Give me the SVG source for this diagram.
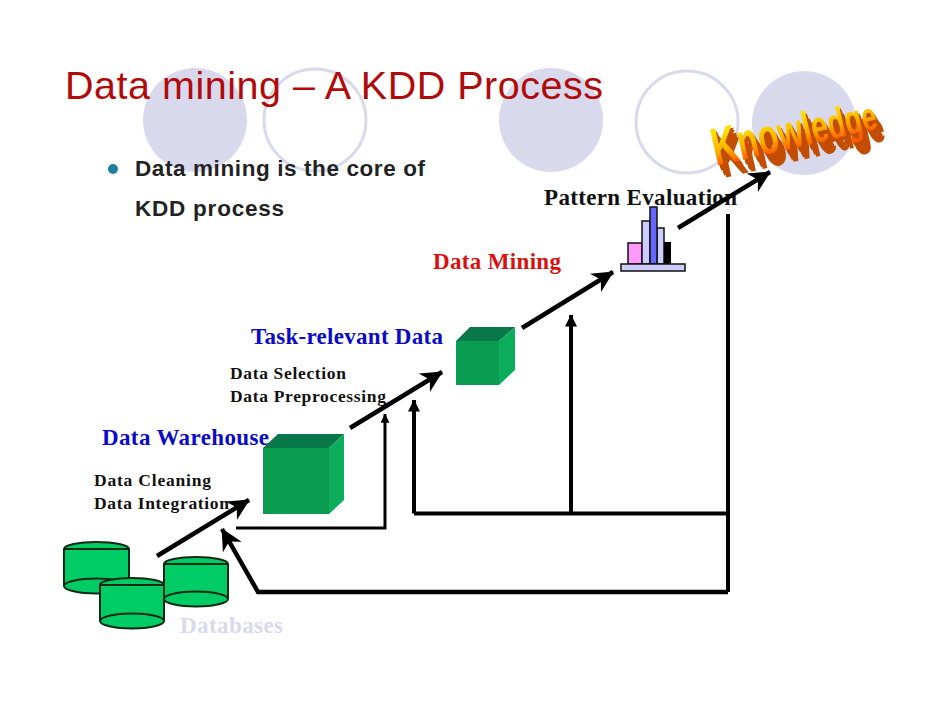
<svg xmlns="http://www.w3.org/2000/svg" width="942" height="728" viewBox="0 0 942 728">
<style>
.c{fill:#d9d9ee}
.o{fill:none;stroke:#d9d9ee;stroke-width:3}
.s{font-family:"Liberation Serif","Times New Roman",serif;font-weight:bold}
.l{font-size:23px}
.m{font-size:17.500px;fill:#111}
.b{font-family:"Liberation Sans",Arial,sans-serif;font-weight:bold;font-size:22.500px;fill:#222}
.a{fill:none;stroke:#000;stroke-width:4.5;marker-end:url(#h)}
.f{fill:none;stroke:#000;stroke-width:4}
.u{marker-end:url(#t)}
.cyl{fill:#00cc66;stroke:#0a2a14;stroke-width:2}
.bar{stroke:#111;stroke-width:1.5}
</style>
<defs>
<marker id="h" viewBox="0 0 10 10" refX="9.6" refY="5" markerWidth="4.8" markerHeight="4.8" orient="auto" markerUnits="strokeWidth"><path d="M0 0L10 5L0 10L3 5Z" fill="#000"/></marker>
<marker id="t" viewBox="0 0 10 10" refX="9.6" refY="5" markerWidth="3" markerHeight="3" orient="auto" markerUnits="strokeWidth"><path d="M0 0L10 5L0 10Z" fill="#000"/></marker>
<linearGradient id="kg" gradientUnits="userSpaceOnUse" x1="0" y1="-30" x2="0" y2="1"><stop offset="0" stop-color="#ffe000"/><stop offset=".55" stop-color="#ffb000"/><stop offset="1" stop-color="#ff5a00"/></linearGradient>
<filter id="ex" filterUnits="userSpaceOnUse" x="690" y="90" width="210" height="110">
<feOffset in="SourceAlpha" dx="1.500" dy="2.500" result="a1"/><feOffset in="SourceAlpha" dx="3" dy="5" result="a2"/><feOffset in="SourceAlpha" dx="4.500" dy="7.500" result="a3"/><feOffset in="SourceAlpha" dx="6" dy="10" result="a4"/><feOffset in="SourceAlpha" dx="7.500" dy="12" result="a5"/>
<feMerge result="m"><feMergeNode in="a1"/><feMergeNode in="a2"/><feMergeNode in="a3"/><feMergeNode in="a4"/><feMergeNode in="a5"/></feMerge>
<feFlood flood-color="#c24e00"/><feComposite in2="m" operator="in" result="sh"/>
<feMerge><feMergeNode in="sh"/><feMergeNode in="SourceGraphic"/></feMerge>
</filter>
</defs>
<rect width="942" height="728" fill="#fff"/>
<g id="background-circles">
<circle class="c" cx="195" cy="120" r="52"/>
<circle class="o" cx="315" cy="120" r="51"/>
<circle class="c" cx="551" cy="120" r="52"/>
<circle class="o" cx="687" cy="122" r="51"/>
<circle class="c" cx="804" cy="123" r="52"/>
</g>
<g id="title"><text x="65" y="99" font-family="'Liberation Sans',Arial,sans-serif" font-size="39.500" fill="#b00a0a" textLength="538">Data mining – A KDD Process</text></g>
<g id="bullet">
<circle cx="113" cy="169" r="5" fill="#1f7f9f"/>
<text class="b" x="135" y="176" textLength="290">Data mining is the core of</text>
<text class="b" x="135" y="216" textLength="149">KDD process</text>
</g>
<g id="labels">
<text class="s l" x="544" y="205" fill="#111" textLength="193">Pattern Evaluation</text>
<text class="s l" x="433" y="269" fill="#d81010" textLength="128">Data Mining</text>
<text class="s l" x="251" y="344" fill="#0a0ac8" textLength="192">Task-relevant Data</text>
<text class="s m" x="230" y="379" textLength="116">Data Selection</text>
<text class="s m" x="230" y="402" textLength="156">Data Preprocessing</text>
<text class="s l" x="102" y="445" fill="#0a0ac8" textLength="167">Data Warehouse</text>
<text class="s m" x="94" y="486" textLength="117">Data Cleaning</text>
<text class="s m" x="94" y="509" textLength="135">Data Integration</text>
<text class="s" x="180" y="633" font-size="23" fill="#d9d9ee" textLength="103">Databases</text>
</g>
<g id="node-databases">
<path class="cyl" d="M64 549A32.500 7 0 0 1 129 549V586A32.500 7.500 0 0 1 64 586Z"/><path class="cyl" d="M64 549H129M64 586A32.500 7.500 0 0 1 129 586"/>
<path class="cyl" d="M164 564A32 7 0 0 1 228 564V599A32 7.500 0 0 1 164 599Z"/><path class="cyl" d="M164 564H228M164 599A32 7.500 0 0 1 228 599"/>
<path class="cyl" d="M100 585A32 7 0 0 1 164 585V621A32 7.500 0 0 1 100 621Z"/><path class="cyl" d="M100 585H164M100 621A32 7.500 0 0 1 164 621"/>
</g>
<g id="node-warehouse">
<path fill="#0a9c50" d="M263 448H329V514H263Z"/><path fill="#08774a" d="M263 448L278 434H344L329 448Z"/><path fill="#0cad5a" d="M329 448L344 434V500L329 514Z"/>
</g>
<g id="node-task-data">
<path fill="#0a9c50" d="M456 341H499V385H456Z"/><path fill="#08774a" d="M456 341L470 327H515L499 341Z"/><path fill="#0cad5a" d="M499 341L515 327V370L499 385Z"/>
</g>
<g id="node-histogram">
<rect class="bar" x="628" y="243" width="14" height="21" fill="#ff99ff"/>
<rect class="bar" x="642" y="221" width="8" height="43" fill="#ccccff"/>
<rect class="bar" x="657" y="228" width="7" height="36" fill="#ccccff"/>
<rect class="bar" x="650" y="207" width="7" height="57" fill="#6666ff"/>
<rect x="664" y="242" width="7" height="22" fill="#000"/>
<rect class="bar" x="621" y="264" width="64" height="7" fill="#ccccff"/>
</g>
<g id="node-knowledge" filter="url(#ex)">
<text transform="translate(716 166) rotate(-13) scale(0.7 1.05)" font-family="'Liberation Sans',Arial,sans-serif" font-weight="bold" fill="url(#kg)"><tspan font-size="51">K</tspan><tspan font-size="49">n</tspan><tspan font-size="48">o</tspan><tspan font-size="46">w</tspan><tspan font-size="45">l</tspan><tspan font-size="43">e</tspan><tspan font-size="41">d</tspan><tspan font-size="40">g</tspan><tspan font-size="38">e</tspan></text>
</g>
<g id="connectors">
<path class="a" d="M157 556L249 500"/>
<path class="a" d="M350 428L442 372"/>
<path class="a" d="M522 328L613 272"/>
<path class="a" d="M678 228L770 172"/>
<path class="f u" style="stroke-width:3" d="M236 528H385V414"/>
<path class="f u" d="M414 513.500V400"/>
<path class="f u" d="M571 513.500V315"/>
<path class="f" d="M414 513.500H728"/>
<path class="f" d="M728 214V592"/>
<path class="a" d="M728 592H258L222 529"/>
</g>
</svg>
